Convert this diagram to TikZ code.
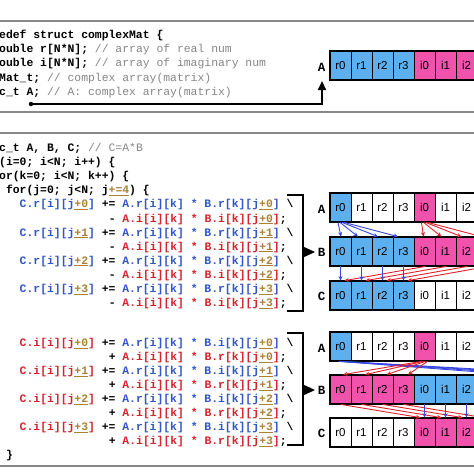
\documentclass[tikz,border=0pt]{standalone}
\usepackage{fontspec}
\setmainfont{Liberation Sans}
\newfontfamily\cf{Liberation Mono}
\usetikzlibrary{arrows.meta}
\definecolor{cellblue}{RGB}{92,176,240}
\definecolor{cellpink}{RGB}{240,82,172}
\definecolor{codeblue}{RGB}{50,85,200}
\definecolor{codered}{RGB}{215,35,45}
\definecolor{codegold}{RGB}{170,130,55}
\definecolor{cmtgray}{RGB}{135,135,135}
\definecolor{arrblue}{RGB}{55,70,225}
\definecolor{arrred}{RGB}{232,30,40}
\definecolor{sepgray}{RGB}{135,135,135}
\newcommand\cB[1]{{\color{codeblue}#1}}
\newcommand\cR[1]{{\color{codered}#1}}
\newcommand\cG[1]{{\color{codegold}\underline{#1}}}
\newcommand\cM[1]{{\mdseries\color{cmtgray}#1}}
\newcommand\myarr[3]{%
  \foreach \lab/\fc [count=\k from 0] in {#3}{
    \node[cell, fill=\fc] (#1-\lab) at ({340.5+21*\k}, {#2+14.5}) {\ifnum\k<7 \lab\fi};
  }
  \draw[line width=2.2pt] (330,#2) rectangle (530,{#2+29});
}
\frenchspacing
\begin{document}
\begin{tikzpicture}[x=1pt,y=-1pt,
  code/.style={font=\cf\bfseries\fontsize{11.4}{12}\selectfont, anchor=base west, inner sep=0pt},
  cell/.style={draw=black, line width=0.7pt, minimum width=21pt, minimum height=29pt, inner sep=0pt, font=\fontsize{11.5}{12}\selectfont},
  lab/.style={font=\cf\bfseries\fontsize{12.5}{13}\selectfont, inner sep=0pt},
  barrow/.style={draw=arrblue, line width=0.9pt, -{Stealth[length=4.5pt,width=4pt]}},
  rarrow/.style={draw=arrred, line width=0.9pt, -{Stealth[length=4.5pt,width=4pt]}},
  sepline/.style={draw=sepgray, line width=1.6pt},
  brk/.style={line width=2.2pt}
]
\useasboundingbox (0,0) rectangle (474,474);
\fill[white] (0,0) rectangle (474,474);
\clip (0,0) rectangle (474,474);

% separators
\draw[sepline] (0,21) -- (474,21);
\draw[sepline] (0,112) -- (474,112);
\draw[sepline] (0,133) -- (474,133);
\draw[sepline] (0,466) -- (474,466);

% top code
\node[code] (t1) at (-1,38.5) {edef struct complexMat \{};
\node[code] (t2) at (-1,52.7) {ouble r[N*N]; \cM{// array of real num}};
\node[code] (t3) at (-1,66.8) {ouble i[N*N]; \cM{// array of imaginary num}};
\node[code] (t4) at (-1,81) {Mat\_t; \cM{// complex array(matrix)}};
\node[code] (t5) at (-1,95.1) {c\_t A; \cM{// A: complex array(matrix)}};

% top array
\myarr{tA}{51}{r0/cellblue,r1/cellblue,r2/cellblue,r3/cellblue,i0/cellpink,i1/cellpink,i2/cellpink,i3/cellpink}
\node[lab] (tAl) at (321.5,67) {A};
\node[circle, fill=black, inner sep=0pt, minimum size=4.5pt] (dot) at (31,104) {};
\coordinate (tip) at (322,81);
\draw[line width=2pt, -{Triangle[length=9pt,width=8pt]}] (dot.center) -| (tip);

% panel 1 code
\node[code] (p1) at (-1,151.8) {c\_t A, B, C; \cM{// C=A*B}};
\node[code] (p2) at (-1,165.8) {(i=0; i<N; i++) \{};
\node[code] (p3) at (-1,179.9) {or(k=0; i<N; k++) \{};
\node[code] (p4) at (5.85,193.9) {for(j=0; j<N; j\cG{+=4}) \{};
\node[code] (p5) at (19.55,207.9) {\cB{C.r[i][j}\cG{+0}\cB{]} += \cB{A.r[i][k] * B.r[k][j}\cG{+0}\cB{]} \textbackslash};
\node[code] (p6) at (108.6,222) {- \cR{A.i[i][k] * B.i[k][j}\cG{+0}\cR{]};};
\node[code] (p7) at (19.55,236) {\cB{C.r[i][j}\cG{+1}\cB{]} += \cB{A.r[i][k] * B.r[k][j}\cG{+1}\cB{]} \textbackslash};
\node[code] (p8) at (108.6,250.1) {- \cR{A.i[i][k] * B.i[k][j}\cG{+1}\cR{]};};
\node[code] (p9) at (19.55,264.1) {\cB{C.r[i][j}\cG{+2}\cB{]} += \cB{A.r[i][k] * B.r[k][j}\cG{+2}\cB{]} \textbackslash};
\node[code] (p10) at (108.6,278.2) {- \cR{A.i[i][k] * B.i[k][j}\cG{+2}\cR{]};};
\node[code] (p11) at (19.55,292.2) {\cB{C.r[i][j}\cG{+3}\cB{]} += \cB{A.r[i][k] * B.r[k][j}\cG{+3}\cB{]} \textbackslash};
\node[code] (p12) at (108.6,306.2) {- \cR{A.i[i][k] * B.i[k][j}\cG{+3}\cR{]};};

% panel 1 bracket
\draw[brk] (287,195) -- (303,195) -- (303,311) -- (287,311);
\fill (302,246) -- (315,252) -- (302,258) -- cycle;

% panel 1 arrays
\myarr{pA}{193}{r0/cellblue,r1/white,r2/white,r3/white,i0/cellpink,i1/white,i2/white,i3/white}
\myarr{pB}{237}{r0/cellblue,r1/cellblue,r2/cellblue,r3/cellblue,i0/cellpink,i1/cellpink,i2/cellpink,i3/cellpink}
\myarr{pC}{281}{r0/cellblue,r1/cellblue,r2/cellblue,r3/cellblue,i0/white,i1/white,i2/white,i3/white}
\node[lab] (pAl) at (321.5,209.5) {A};
\node[lab] (pBl) at (321.5,252.5) {B};
\node[lab] (pCl) at (321.5,296.5) {C};

\foreach \k/\s/\t in {0/-2.5/0.5, 1/-0.5/-3.5, 2/1.5/-4.5, 3/3.5/-5.5}
  \draw[barrow] ([xshift=\s pt]pA-r0.south) -- ([xshift=\t pt]pB-r\k.north);
\foreach \k/\s/\t in {0/-3/-1, 1/-1/-4, 2/1/-5, 3/3/-6}
  \draw[rarrow] ([xshift=\s pt]pA-i0.south) -- ([xshift=\t pt]pB-i\k.north);
\foreach \k in {0,1,2,3}
  \draw[rarrow] ([xshift=1pt]pB-i\k.south) -- ([xshift=4pt]pC-r\k.north);
\foreach \k in {0,1,2,3}
  \draw[barrow] (pB-r\k.south) -- (pC-r\k.north);

% panel 2 code
\node[code] (q1) at (19.55,346.8) {\cR{C.i[i][j}\cG{+0}\cR{]} += \cB{A.r[i][k] * B.i[k][j}\cG{+0}\cB{]} \textbackslash};
\node[code] (q2) at (108.6,360.8) {+ \cR{A.i[i][k] * B.r[k][j}\cG{+0}\cR{]};};
\node[code] (q3) at (19.55,374.8) {\cR{C.i[i][j}\cG{+1}\cR{]} += \cB{A.r[i][k] * B.i[k][j}\cG{+1}\cB{]} \textbackslash};
\node[code] (q4) at (108.6,388.7) {+ \cR{A.i[i][k] * B.r[k][j}\cG{+1}\cR{]};};
\node[code] (q5) at (19.55,402.7) {\cR{C.i[i][j}\cG{+2}\cR{]} += \cB{A.r[i][k] * B.i[k][j}\cG{+2}\cB{]} \textbackslash};
\node[code] (q6) at (108.6,416.7) {+ \cR{A.i[i][k] * B.r[k][j}\cG{+2}\cR{]};};
\node[code] (q7) at (19.55,430.6) {\cR{C.i[i][j}\cG{+3}\cR{]} += \cB{A.r[i][k] * B.i[k][j}\cG{+3}\cB{]} \textbackslash};
\node[code] (q8) at (108.6,444.6) {+ \cR{A.i[i][k] * B.r[k][j}\cG{+3}\cR{]};};
\node[code] (q9) at (5.85,458.5) {\}};

% panel 2 bracket
\draw[brk] (287,333) -- (303,333) -- (303,445) -- (287,445);
\fill (302,384) -- (315,390) -- (302,396) -- cycle;

% panel 2 arrays
\myarr{qA}{332}{r0/cellblue,r1/white,r2/white,r3/white,i0/cellpink,i1/white,i2/white,i3/white}
\myarr{qB}{375}{r0/cellpink,r1/cellpink,r2/cellpink,r3/cellpink,i0/cellblue,i1/cellblue,i2/cellblue,i3/cellblue}
\myarr{qC}{418}{r0/white,r1/white,r2/white,r3/white,i0/cellpink,i1/cellpink,i2/cellpink,i3/cellpink}
\node[lab] (qAl) at (321.5,348) {A};
\node[lab] (qBl) at (321.5,390.5) {B};
\node[lab] (qCl) at (321.5,433.5) {C};

\foreach \k/\s in {0/-2,1/-1,2/0,3/1}{
  \coordinate (qe\k) at ({519+21*\k},375);
  \draw[barrow] ([xshift=\s pt]qA-r0.south) -- (qe\k);
}
\foreach \k/\s/\t in {0/-3/2.5, 1/-1/3.5, 2/1/4, 3/3/4.5}
  \draw[rarrow] ([xshift=\s pt]qA-i0.south) -- ([xshift=\t pt]qB-r\k.north);
\foreach \k in {0,1,2,3}
  \draw[rarrow] (qB-r\k.south) -- ([xshift=-4pt]qC-i\k.north);
\foreach \k in {0,1,2,3}
  \draw[barrow] (qB-i\k.south) -- (qC-i\k.north);
\end{tikzpicture}
\end{document}
